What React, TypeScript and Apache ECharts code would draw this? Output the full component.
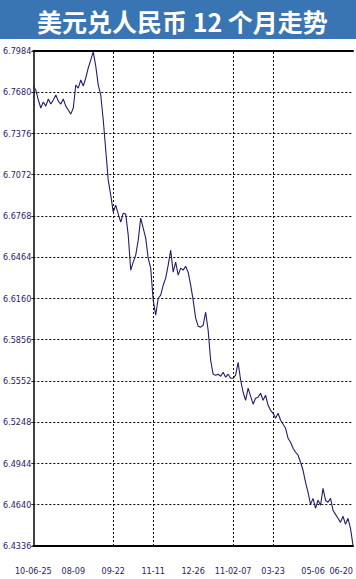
import React, { useEffect, useRef } from 'react';
import * as echarts from 'echarts';

const TITLE = '美元兑人民币 12 个月走势';

const X_TICKS = ['10-06-25', '08-09', '09-22', '11-11', '12-26', '11-02-07', '03-23', '05-06', '06-20'];

const Y_TICKS = [
  '6.4336', '6.4640', '6.4944', '6.5248', '6.5552', '6.5856', '6.6160',
  '6.6464', '6.6768', '6.7072', '6.7376', '6.7680', '6.7984',
];

// daily USD/CNY rate
const RATES = [
  6.7726, 6.7696, 6.7623, 6.7564, 6.7608, 6.7578, 6.7630, 6.7593, 6.7623, 6.7660,
  6.7615, 6.7593, 6.7630, 6.7578, 6.7549, 6.7519, 6.7564, 6.7733, 6.7711, 6.7770,
  6.7726, 6.7785, 6.7859, 6.7918, 6.7977, 6.7873, 6.7733, 6.7660, 6.7475, 6.7254,
  6.7033, 6.6922, 6.6797, 6.6848, 6.6782, 6.6723, 6.6789, 6.6782, 6.6627, 6.6369,
  6.6428, 6.6480, 6.6590, 6.6752, 6.6679, 6.6605, 6.6457, 6.6384, 6.6148, 6.6037,
  6.6162, 6.6185, 6.6258, 6.6310, 6.6406, 6.6516, 6.6354, 6.6428, 6.6332, 6.6384,
  6.6369, 6.6398, 6.6354, 6.6258, 6.6148, 6.6015, 6.5956, 6.5949, 6.5963, 6.6059,
  6.5926, 6.5705, 6.5602, 6.5595, 6.5602, 6.5587, 6.5617, 6.5580, 6.5602, 6.5572,
  6.5572, 6.5595, 6.5690, 6.5558, 6.5469, 6.5410, 6.5499, 6.5440, 6.5381, 6.5425,
  6.5432, 6.5462, 6.5410, 6.5447, 6.5373, 6.5336, 6.5314, 6.5277, 6.5314, 6.5263,
  6.5233, 6.5204, 6.5130, 6.5100, 6.5056, 6.5027, 6.5005, 6.4953, 6.4894, 6.4805,
  6.4732, 6.4643, 6.4687, 6.4614, 6.4673, 6.4636, 6.4761, 6.4673, 6.4658, 6.4687,
  6.4599, 6.4569, 6.4540, 6.4510, 6.4555, 6.4496, 6.4540, 6.4466, 6.4341,
];

// tick indices (on the x axis) that carry a vertical dashed grid line
const V_LINES = [32, 48, 80, 96];

const NARROW = "'Liberation Sans Narrow', 'DejaVu Sans Condensed', 'Roboto Condensed', 'Liberation Sans', Arial, sans-serif";

export default function App() {
  const ref = useRef<HTMLDivElement>(null);

  useEffect(() => {
    if (!ref.current) return;
    const chart = echarts.init(ref.current, null, { renderer: 'svg' });
    const yMin = parseFloat(Y_TICKS[0]);
    const yMax = parseFloat(Y_TICKS[Y_TICKS.length - 1]);
    const yStep = parseFloat(Y_TICKS[1]) - yMin;
    const last = RATES.length - 1;
    const xStep = last / (X_TICKS.length - 1);
    const labelColor = '#2b1b66';

    chart.setOption({
      animation: false,
      backgroundColor: '#ffffff',
      graphic: [
        {
          type: 'rect',
          z: 0,
          shape: { x: 0, y: 0, width: 356, height: 39 },
          style: { fill: '#3a75b3' },
        },
      ],
      title: {
        text: TITLE,
        left: 32,
        top: 3,
        z: 10,
        textStyle: {
          color: '#ffffff',
          fontSize: 25,
          fontWeight: 'bold',
          fontFamily: "'Noto Sans CJK SC', sans-serif",
        },
      },
      grid: { left: 31, right: 2, top: 51, bottom: 33 },
      xAxis: [
        {
          type: 'value',
          min: 0,
          max: last,
          interval: xStep,
          axisLine: { show: true, lineStyle: { color: '#000', width: 2 } },
          axisTick: { show: false },
          splitLine: { show: false },
          axisLabel: {
            margin: 20,
            color: labelColor,
            fontSize: 9,
            fontFamily: NARROW,
            alignMaxLabel: 'right',
            formatter: (v: number) => X_TICKS[Math.round(v / xStep)] ?? '',
          },
        },
        {
          type: 'value',
          position: 'top',
          min: 0,
          max: last,
          interval: xStep,
          axisLine: { show: true, lineStyle: { color: '#000', width: 2 } },
          axisTick: { show: false },
          splitLine: { show: false },
          axisLabel: { show: false },
        },
      ],
      yAxis: {
        type: 'value',
        min: yMin,
        max: yMax,
        interval: yStep,
        axisLine: { show: true, lineStyle: { color: '#000', width: 1.5 } },
        axisTick: { show: true, length: 2, lineStyle: { color: labelColor } },
        splitLine: { show: true, lineStyle: { color: '#000', width: 1, type: [2, 2] } },
        axisLabel: {
          margin: 2,
          color: labelColor,
          fontSize: 9,
          fontFamily: NARROW,
          formatter: (v: number) => Y_TICKS[Math.round((v - yMin) / yStep)] ?? '',
        },
      },
      series: [
        {
          type: 'line',
          xAxisIndex: 0,
          data: RATES.map((v, i) => [i, v]),
          showSymbol: false,
          lineStyle: { color: '#2b1b66', width: 1.1 },
          markLine: {
            silent: true,
            symbol: 'none',
            label: { show: false },
            lineStyle: { color: '#000', width: 1, type: [2, 2] },
            data: V_LINES.map((x) => ({ xAxis: x })),
          },
        },
      ],
    });

    return () => chart.dispose();
  }, []);

  return (
    <div
      ref={ref}
      style={{ position: 'absolute', left: 0, top: 0, width: 356, height: 579 }}
    />
  );
}
